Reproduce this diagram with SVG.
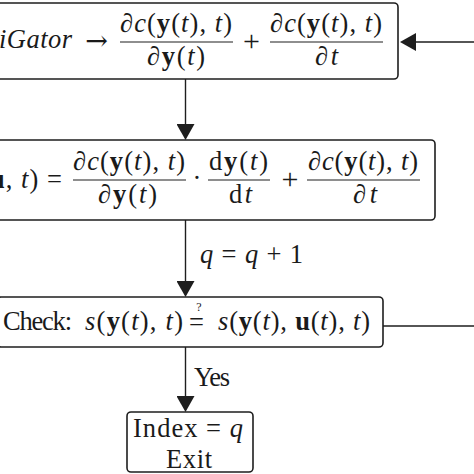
<svg xmlns="http://www.w3.org/2000/svg" width="474" height="474" viewBox="0 0 474 474">
<style>
.bg{fill:#ffffff}
.box{fill:#ffffff;stroke:#1e1e1e;stroke-width:1.6}
.bar{stroke:#1e1e1e;stroke-width:1.1}
.con{fill:none;stroke:#1e1e1e;stroke-width:1.4}
.t{font-family:"Liberation Serif","Times New Roman",serif;font-size:26.5px;fill:#1a1a1a}
.i{font-style:italic}
.b{font-weight:bold}
.s{font-size:12px}
.op{font-size:30px}
.arr{font-family:"DejaVu Serif","DejaVu Sans",serif;font-size:27px;fill:#1a1a1a}
</style>
<defs>
<marker id="ah" viewBox="0 0 16 18" refX="14" refY="9" markerWidth="16" markerHeight="18" markerUnits="userSpaceOnUse" orient="auto">
<path d="M0,0 L16,9 L0,18 z" fill="#1e1e1e"/>
</marker>
</defs>
<rect class="bg" x="0" y="0" width="474" height="474"/>

<g id="connectors">
<path class="con" d="M474,42 H402" marker-end="url(#ah)"/>
<path class="con" d="M185.5,79 V138" marker-end="url(#ah)"/>
<path class="con" d="M185.5,220 V295" marker-end="url(#ah)"/>
<path class="con" d="M185.5,347 V410" marker-end="url(#ah)"/>
<path class="con" d="M383,326 H474"/>
<text class="t" x="200" y="263" textLength="103"><tspan class="i">q</tspan> = <tspan class="i">q</tspan> + 1</text>
<text class="t" x="194" y="386" textLength="36">Yes</text>
</g>

<g id="node-gator">
<rect class="box" x="-10" y="3" width="408" height="76" rx="4"/>
<text class="t i" x="-1" y="48" textLength="73">iGator</text>
<text class="arr" x="96.5" y="50" text-anchor="middle">→</text>
<text class="t" x="120" y="32" textLength="112">∂<tspan class="i">c</tspan>(<tspan class="b">y</tspan>(<tspan class="i">t</tspan>), <tspan class="i">t</tspan>)</text>
<line class="bar" x1="120" y1="42" x2="233" y2="42"/>
<text class="t" x="147" y="65" textLength="58">∂<tspan class="b">y</tspan>(<tspan class="i">t</tspan>)</text>
<text class="t op" x="251.5" y="51" text-anchor="middle">+</text>
<text class="t" x="270" y="32" textLength="112">∂<tspan class="i">c</tspan>(<tspan class="b">y</tspan>(<tspan class="i">t</tspan>), <tspan class="i">t</tspan>)</text>
<line class="bar" x1="270" y1="42" x2="383" y2="42"/>
<text class="t" x="315" y="65" textLength="23">∂<tspan class="i">t</tspan></text>
</g>

<g id="node-derivative">
<rect class="box" x="-10" y="140" width="445" height="80" rx="4"/>
<text class="t" x="-10" y="188" textLength="72"><tspan class="b">u</tspan>, <tspan class="i">t</tspan>) =</text>
<text class="t" x="73" y="170" textLength="112">∂<tspan class="i">c</tspan>(<tspan class="b">y</tspan>(<tspan class="i">t</tspan>), <tspan class="i">t</tspan>)</text>
<line class="bar" x1="73" y1="180" x2="186" y2="180"/>
<text class="t" x="98" y="203" textLength="59">∂<tspan class="b">y</tspan>(<tspan class="i">t</tspan>)</text>
<text class="t" x="197" y="187" text-anchor="middle">·</text>
<text class="t" x="209" y="170" textLength="59">d<tspan class="b">y</tspan>(<tspan class="i">t</tspan>)</text>
<line class="bar" x1="208" y1="180" x2="270" y2="180"/>
<text class="t" x="229" y="203" textLength="23">d<tspan class="i">t</tspan></text>
<text class="t op" x="290" y="189" text-anchor="middle">+</text>
<text class="t" x="308" y="170" textLength="110">∂<tspan class="i">c</tspan>(<tspan class="b">y</tspan>(<tspan class="i">t</tspan>), <tspan class="i">t</tspan>)</text>
<line class="bar" x1="307" y1="180" x2="420" y2="180"/>
<text class="t" x="353" y="203" textLength="24">∂<tspan class="i">t</tspan></text>
</g>

<g id="node-check">
<rect class="box" x="-3" y="297" width="386" height="50" rx="4"/>
<text class="t" x="3" y="330" textLength="69">Check:</text>
<text class="t" x="85" y="330" textLength="98"><tspan class="i">s</tspan>(<tspan class="b">y</tspan>(<tspan class="i">t</tspan>), <tspan class="i">t</tspan>)</text>
<text class="t s" x="199" y="311" text-anchor="middle">?</text>
<text class="t" x="189" y="331" textLength="19">=</text>
<text class="t" x="218" y="330" textLength="152"><tspan class="i">s</tspan>(<tspan class="b">y</tspan>(<tspan class="i">t</tspan>), <tspan class="b">u</tspan>(<tspan class="i">t</tspan>), <tspan class="i">t</tspan>)</text>
</g>

<g id="node-exit">
<rect class="box" x="127" y="412" width="126" height="60" rx="4"/>
<text class="t" x="133" y="437" textLength="110">Index = <tspan class="i">q</tspan></text>
<text class="t" x="166" y="468" textLength="46">Exit</text>
</g>
</svg>
